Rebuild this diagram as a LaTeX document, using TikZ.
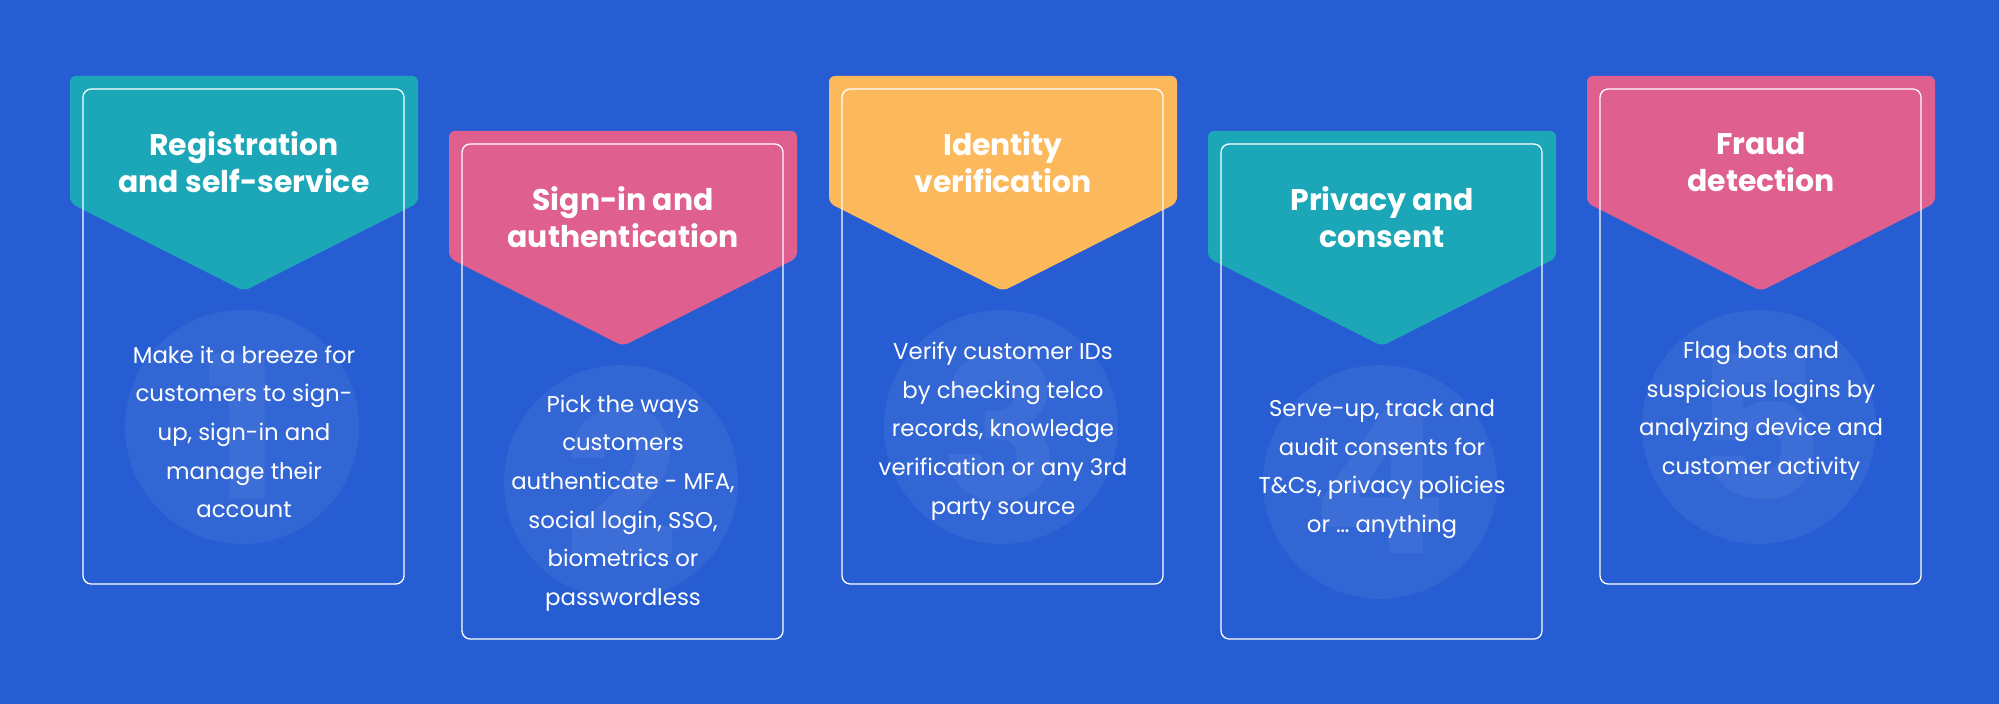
\documentclass[tikz,border=0pt]{standalone}
\usepackage{fontspec}
\setmainfont{Poppins}
\definecolor{bg}{HTML}{275DD3}
\definecolor{teal}{HTML}{1CA7B9}
\definecolor{pink}{HTML}{DF5F8E}
\definecolor{yel}{HTML}{FBB95B}
\tikzset{
  banner/.style={fill=#1, rounded corners=5pt},
  cardbox/.style={draw=white, line width=1.1pt, rounded corners=7pt},
  ring/.style={fill=white, fill opacity=0.06},
  ttl/.style={text=white, font=\fontsize{25.5}{32}\selectfont\bfseries, align=center},
  bdy/.style={text=white, font=\fontsize{19.5}{33}\selectfont, align=center},
  dig/.style={text=white, text opacity=0.05, font=\fontsize{170}{170}\selectfont\bfseries}
}
\newcommand{\mycard}[8]{% name, x, y, color, title, body, body offset, digit
  \fill[banner=#4] (#2,#3) -- (#2+348,#3) -- (#2+348,#3+127) -- (#2+174,#3+215) -- (#2,#3+127) -- cycle;
  \fill[ring] (#2+172,#3+351) circle (117);
  \node[dig] (#1d) at (#2+172,#3+351) {#8};
  \draw[cardbox] (#2+13,#3+13) rectangle (#2+334,#3+508);
  \node[ttl] (#1t) at (#2+174,#3+86) {#5};
  \node[bdy] (#1b) at (#2+174,#3+#7) {#6};
}
\begin{document}
\begin{tikzpicture}[x=0.03cm,y=-0.03cm]
\fill[bg] (0,0) rectangle (1999,704);
\useasboundingbox (0,0) rectangle (1999,704);
\mycard{a}{70}{76}{teal}{Registration\\and self-service}{Make it a breeze for\\customers to sign-\\up, sign-in and\\manage their\\account}{356}{1}
\mycard{b}{449}{131}{pink}{Sign-in and\\authentication}{Pick the ways\\customers\\authenticate - MFA,\\social login, SSO,\\biometrics or\\passwordless}{372}{2}
\mycard{c}{829}{76}{yel}{Identity\\verification}{Verify customer IDs\\by checking telco\\records, knowledge\\verification or any 3rd\\party source}{355}{3}
\mycard{d}{1208}{131}{teal}{Privacy and\\consent}{Serve-up, track and\\audit consents for\\T\&Cs, privacy policies\\or … anything}{338}{4}
\mycard{e}{1587}{76}{pink}{Fraud\\detection}{Flag bots and\\suspicious logins by\\analyzing device and\\customer activity}{335}{5}
\end{tikzpicture}
\end{document}
